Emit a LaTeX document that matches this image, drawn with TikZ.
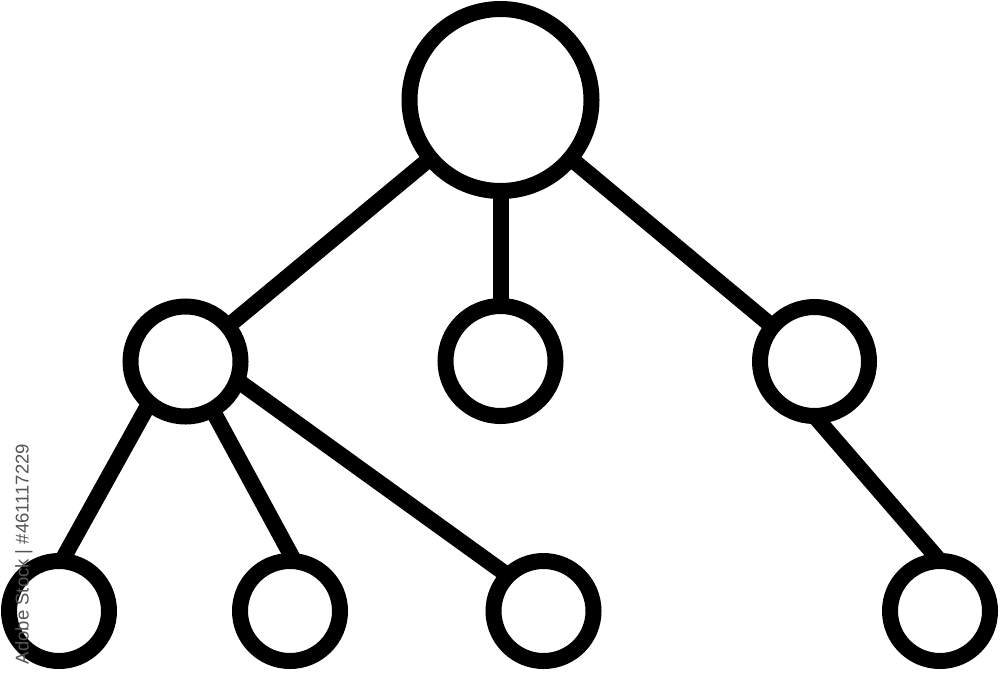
\documentclass[tikz,border=0pt]{standalone}
\usepackage{fontspec}
\newfontfamily\wmfont{Liberation Sans}
\definecolor{wmgray}{RGB}{85,85,85}
\begin{document}
\begin{tikzpicture}[x=1pt,y=-1pt,
  nd/.style={circle,draw=black,line width=16pt,fill=white,inner sep=0pt,outer sep=0pt,minimum size=#1},
  edge/.style={draw=black,line width=16pt}]
\useasboundingbox (0,0) rectangle (1000,672);
\coordinate (cT) at (500.5,100);
\coordinate (cML) at (185.5,361.5);
\coordinate (cMC) at (500.5,361);
\coordinate (cMR) at (814.5,361.5);
\node[nd=182] (T) at (cT) {};
\node[nd=110] (ML) at (cML) {};
\node[nd=110] (MC) at (cMC) {};
\node[nd=109] (MR) at (cMR) {};
\node[nd=100] (B1) at (59,611) {};
\node[nd=100] (B2) at (290,611) {};
\node[nd=100] (B3) at (543.5,611) {};
\node[nd=100] (B4) at (940,611) {};
\draw[edge] (T) -- (ML);
\draw[edge] (T) -- (MC);
\draw[edge] (T) -- (MR);
\draw[edge] (ML.229.5) -- (B1.87);
\draw[edge] (ML.299) -- (B2.85);
\draw[edge] (ML.340.7) -- (B3.135);
\draw[edge] (MR.270) -- (B4.90);
\node[rotate=90,text=wmgray,inner sep=0pt,font=\wmfont\fontsize{18.5}{20}\selectfont] (wm) at (24,554) {Adobe Stock | \#461117229};
\end{tikzpicture}
\end{document}
